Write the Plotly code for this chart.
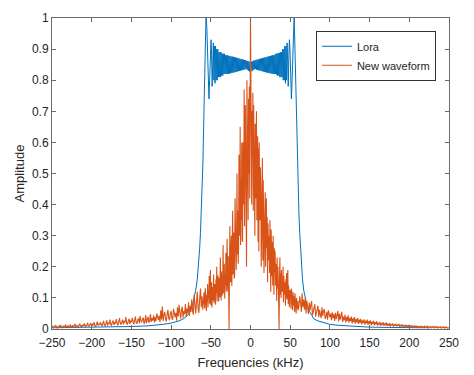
import plotly.graph_objects as go
import numpy as np

# ---------------- Lora (blue) ----------------
lora_x_left = [-250, -225, -200, -175, -150, -130, -120, -110, -100, -95, -90, -85, -80, -77, -75, -73, -71, -69, -67,
               -65.5, -64, -63, -62, -61, -60, -59, -58, -57, -56, -55, -54, -53, -52.3, -51.5, -50.5, -49.7, -49.0,
               -48.3, -47.5, -46.8, -46.1, -45.4, -44.7, -44.0, -43.3, -42.6, -41.9, -41.2, -40.5, -39.8, -39.1,
               -38.4, -37.7, -37.0, -36.3, -35.6, -34.9, -34.2, -33.5, -32.8, -32.1, -31.4, -30.7, -30.0, -29.3,
               -28.6, -27.9, -27.2, -26.5, -25.8, -25.1, -24.4, -23.7, -23.0, -22.3, -21.6, -20.9, -20.2, -19.5,
               -18.8, -18.1, -17.4, -16.7, -16.0, -15.3, -14.6, -13.9, -13.2, -12.5, -11.8, -11.1, -10.4, -9.7,
               -9.0, -8.3, -7.6, -6.9, -6.2, -5.5, -4.8, -4.1, -3.4, -2.7, -2.0, -1.3, -0.6]
lora_y_left = [0.004, 0.0045, 0.005, 0.006, 0.008, 0.010, 0.012, 0.015, 0.019, 0.022, 0.026, 0.032, 0.042, 0.052,
               0.062, 0.078, 0.098, 0.125, 0.16, 0.20, 0.26, 0.31, 0.37, 0.44, 0.53, 0.65, 0.78, 0.90, 1.01, 0.97,
               0.86, 0.77, 0.74, 0.80, 0.90, 0.93, 0.88, 0.78, 0.86, 0.92, 0.80, 0.91, 0.79, 0.91, 0.80, 0.90,
               0.80, 0.90, 0.81, 0.89, 0.81, 0.89, 0.81, 0.89, 0.815, 0.885, 0.815, 0.885, 0.82, 0.885, 0.82, 0.88,
               0.82, 0.88, 0.82, 0.88, 0.82, 0.878, 0.822, 0.878, 0.822, 0.876, 0.824, 0.876, 0.824, 0.875, 0.825,
               0.874, 0.826, 0.873, 0.827, 0.872, 0.828, 0.871, 0.829, 0.870, 0.830, 0.869, 0.831, 0.868, 0.832,
               0.867, 0.833, 0.866, 0.834, 0.865, 0.835, 0.864, 0.836, 0.862, 0.834, 0.862, 0.830, 0.860, 0.828, 0.858]
lora_x_mid = [0.0]
lora_y_mid = [0.845]
lora_x_right = [0.6, 1.3, 2.0, 2.7, 3.4, 4.1, 4.8, 5.5, 6.2, 6.9, 7.6, 8.3, 9.0, 9.7, 10.4, 11.1, 11.8, 12.5, 13.2,
                13.9, 14.6, 15.3, 16.0, 16.7, 17.4, 18.1, 18.8, 19.5, 20.2, 20.9, 21.6, 22.3, 23.0, 23.7, 24.4, 25.1,
                25.8, 26.5, 27.2, 27.9, 28.6, 29.3, 30.0, 30.7, 31.4, 32.1, 32.8, 33.5, 34.2, 34.9, 35.6, 36.3, 37.0,
                37.7, 38.4, 39.1, 39.8, 40.5, 41.2, 41.9, 42.6, 43.3, 44.0, 44.7, 45.4, 46.1, 46.8, 47.5, 48.3, 49.0,
                49.7, 50.5, 51.5, 52.0, 53.0, 54.0, 55.0, 56.0, 57, 58, 59, 60, 61, 62, 63, 64, 65.5, 67, 69, 71, 73,
                75, 77, 80, 85, 90, 95, 100, 110, 120, 130, 150, 175, 200, 225, 250]
lora_y_right = [0.832, 0.859, 0.829, 0.861, 0.833, 0.863, 0.835, 0.864, 0.836, 0.865, 0.834, 0.866, 0.833, 0.867,
                0.832, 0.868, 0.831, 0.869, 0.830, 0.870, 0.829, 0.871, 0.828, 0.872, 0.827, 0.873, 0.826, 0.874,
                0.825, 0.875, 0.824, 0.876, 0.824, 0.877, 0.822, 0.878, 0.822, 0.879, 0.821, 0.88, 0.82, 0.88,
                0.82, 0.882, 0.82, 0.885, 0.818, 0.886, 0.815, 0.886, 0.815, 0.888, 0.81, 0.89, 0.81, 0.89, 0.81,
                0.90, 0.80, 0.90, 0.80, 0.91, 0.79, 0.91, 0.80, 0.92, 0.86, 0.78, 0.88, 0.93, 0.90, 0.80, 0.74,
                0.77, 0.86, 0.97, 1.01, 0.90, 0.78, 0.65, 0.53, 0.44, 0.37, 0.31, 0.26, 0.20, 0.16, 0.125, 0.098,
                0.078, 0.062, 0.052, 0.042, 0.032, 0.026, 0.022, 0.019, 0.015, 0.012, 0.010, 0.008, 0.006, 0.005,
                0.0045, 0.004]

# ---------------- New waveform (orange) ----------------
# left wing: bins -250 .. -61 kHz (1 kHz)
wave_left = [
    0.006, 0.010, 0.004, 0.005, 0.012, 0.008, 0.009, 0.003, 0.006, 0.011,   # -250
    0.007, 0.013, 0.006, 0.005, 0.009, 0.010, 0.004, 0.014, 0.008, 0.006,   # -240
    0.011, 0.009, 0.004, 0.015, 0.006, 0.008, 0.012, 0.005, 0.010, 0.016,   # -230
    0.007, 0.011, 0.009, 0.005, 0.013, 0.017, 0.008, 0.012, 0.006, 0.014,   # -220
    0.010, 0.018, 0.007, 0.009, 0.013, 0.020, 0.008, 0.011, 0.015, 0.019,   # -210
    0.009, 0.016, 0.012, 0.022, 0.010, 0.008, 0.015, 0.024, 0.011, 0.017,   # -200
    0.013, 0.021, 0.015, 0.009, 0.018, 0.026, 0.012, 0.010, 0.019, 0.028,   # -190
    0.011, 0.020, 0.016, 0.030, 0.014, 0.012, 0.022, 0.027, 0.013, 0.021,   # -180
    0.018, 0.032, 0.017, 0.012, 0.024, 0.035, 0.019, 0.014, 0.023, 0.030,   # -170
    0.015, 0.026, 0.021, 0.038, 0.018, 0.014, 0.025, 0.033, 0.016, 0.027,   # -160
    0.022, 0.036, 0.025, 0.015, 0.028, 0.040, 0.020, 0.017, 0.030, 0.034,   # -150
    0.018, 0.042, 0.026, 0.021, 0.031, 0.037, 0.016, 0.024, 0.045, 0.019,   # -140
    0.029, 0.040, 0.020, 0.026, 0.048, 0.023, 0.035, 0.027, 0.044, 0.021,   # -130
    0.038, 0.025, 0.050, 0.033, 0.029, 0.042, 0.022, 0.060, 0.031, 0.072,   # -120
    0.026, 0.045, 0.055, 0.033, 0.024, 0.047, 0.062, 0.036, 0.028, 0.050,   # -110
    0.058, 0.034, 0.030, 0.065, 0.045, 0.038, 0.052, 0.027, 0.070, 0.040,   # -100
    0.078, 0.045, 0.033, 0.060, 0.072, 0.036, 0.058, 0.048, 0.080, 0.039,   # -90
    0.066, 0.050, 0.085, 0.042, 0.075, 0.055, 0.095, 0.060, 0.046, 0.110,   # -80
    0.080, 0.050, 0.088, 0.120, 0.065, 0.052, 0.098, 0.130, 0.070, 0.105,   # -70
]
# centre: bins -60 .. 60 kHz (0.5 kHz)
wave_centre = [
    0.062, 0.095, 0.071, 0.118, 0.084, 0.066, 0.131, 0.079, 0.102, 0.058,   # -60
    0.110, 0.088, 0.145, 0.070, 0.125, 0.097, 0.170, 0.081, 0.112, 0.190,   # -55
    0.076, 0.128, 0.150, 0.069, 0.135, 0.104, 0.092, 0.175, 0.083, 0.121,   # -50
    0.145, 0.098, 0.078, 0.160, 0.115, 0.200, 0.089, 0.132, 0.172, 0.094,   # -45
    0.088, 0.165, 0.124, 0.102, 0.230, 0.118, 0.092, 0.185, 0.140, 0.108,   # -40
    0.125, 0.270, 0.115, 0.162, 0.210, 0.098, 0.178, 0.140, 0.245, 0.121,   # -35
    0.140, 0.290, 0.168, 0.120, 0.235, 0.060, 0.000, 0.182, 0.330, 0.155,   # -30
    0.150, 0.265, 0.300, 0.138, 0.210, 0.380, 0.175, 0.245, 0.310, 0.162,   # -25
    0.170, 0.420, 0.225, 0.350, 0.190, 0.290, 0.500, 0.240, 0.380, 0.210,   # -20
    0.260, 0.560, 0.330, 0.300, 0.650, 0.270, 0.480, 0.350, 0.600, 0.290,   # -15
    0.280, 0.600, 0.450, 0.400, 0.770, 0.330, 0.550, 0.720, 0.380, 0.620,   # -10
    0.200, 0.800, 0.450, 0.650, 0.350, 0.740, 0.500, 0.780, 0.420, 0.700,   # -5
    1.000,                                                                   # 0
    0.560, 0.780, 0.400, 0.700, 0.550, 0.760, 0.380, 0.720, 0.480, 0.640,   # 0.5
    0.300, 0.660, 0.420, 0.580, 0.700, 0.350, 0.520, 0.620, 0.280, 0.580,   # 5.5
    0.250, 0.600, 0.400, 0.350, 0.520, 0.460, 0.200, 0.450, 0.300, 0.550,   # 10.5
    0.220, 0.480, 0.380, 0.180, 0.400, 0.300, 0.440, 0.200, 0.340, 0.420,   # 15.5
    0.260, 0.360, 0.150, 0.340, 0.280, 0.220, 0.300, 0.180, 0.350, 0.230,   # 20.5
    0.120, 0.320, 0.250, 0.170, 0.280, 0.140, 0.300, 0.210, 0.110, 0.260,   # 25.5
    0.180, 0.250, 0.140, 0.210, 0.160, 0.090, 0.230, 0.130, 0.200, 0.150,   # 30.5
    0.060, 0.000, 0.160, 0.230, 0.110, 0.180, 0.100, 0.190, 0.140, 0.120,   # 35.5
    0.130, 0.200, 0.085, 0.170, 0.120, 0.110, 0.150, 0.075, 0.160, 0.100,   # 40.5
    0.180, 0.095, 0.135, 0.190, 0.080, 0.140, 0.110, 0.070, 0.125, 0.100,   # 45.5
    0.125, 0.065, 0.130, 0.085, 0.110, 0.060, 0.120, 0.090, 0.075, 0.105,   # 50.5
    0.055, 0.115, 0.070, 0.095, 0.050, 0.100, 0.082, 0.065, 0.090, 0.060,   # 55.5
]
# right wing: bins 61 .. 250 kHz (1 kHz)
wave_right = [
    0.075, 0.105, 0.085, 0.055, 0.115, 0.070, 0.095, 0.062, 0.100, 0.050,   # 61
    0.090, 0.065, 0.048, 0.085, 0.060, 0.078, 0.090, 0.044, 0.055, 0.072,   # 71
    0.080, 0.040, 0.052, 0.068, 0.075, 0.038, 0.062, 0.046, 0.035, 0.070,   # 81
    0.042, 0.058, 0.064, 0.033, 0.040, 0.055, 0.030, 0.060, 0.048, 0.037,   # 91
    0.050, 0.028, 0.054, 0.035, 0.048, 0.026, 0.052, 0.032, 0.045, 0.058,   # 101
    0.024, 0.050, 0.030, 0.042, 0.055, 0.023, 0.040, 0.028, 0.046, 0.021,   # 111
    0.038, 0.026, 0.044, 0.020, 0.036, 0.025, 0.040, 0.018, 0.034, 0.022,   # 121
    0.038, 0.017, 0.032, 0.021, 0.035, 0.016, 0.030, 0.020, 0.033, 0.015,   # 131
    0.028, 0.019, 0.031, 0.014, 0.027, 0.018, 0.030, 0.013, 0.025, 0.017,   # 141
    0.028, 0.012, 0.024, 0.016, 0.026, 0.012, 0.022, 0.015, 0.025, 0.011,   # 151
    0.020, 0.014, 0.023, 0.010, 0.019, 0.013, 0.022, 0.010, 0.018, 0.012,   # 161
    0.021, 0.009, 0.017, 0.011, 0.019, 0.008, 0.016, 0.012, 0.018, 0.008,   # 171
    0.015, 0.011, 0.017, 0.009, 0.014, 0.010, 0.016, 0.007, 0.013, 0.009,   # 181
    0.015, 0.006, 0.012, 0.008, 0.014, 0.006, 0.011, 0.008, 0.013, 0.005,   # 191
    0.010, 0.007, 0.012, 0.005, 0.009, 0.007, 0.011, 0.005, 0.009, 0.006,   # 201
    0.010, 0.005, 0.008, 0.006, 0.010, 0.004, 0.008, 0.006, 0.009, 0.004,   # 211
    0.008, 0.006, 0.009, 0.004, 0.007, 0.005, 0.008, 0.004, 0.007, 0.005,   # 221
    0.008, 0.004, 0.007, 0.005, 0.008, 0.003, 0.006, 0.005, 0.007, 0.003,   # 231
    0.006, 0.004, 0.007, 0.003, 0.006, 0.004, 0.006, 0.003, 0.005, 0.004,   # 241
]
wave_f_left = np.arange(-250, -60, 1.0)
wave_f_centre = np.arange(-60, 60.25, 0.5)
wave_f_right = np.arange(61, 251, 1.0)

x_ticks = [-250, -200, -150, -100, -50, 0, 50, 100, 150, 200, 250]
y_ticks = [0, 0.1, 0.2, 0.3, 0.4, 0.5, 0.6, 0.7, 0.8, 0.9, 1]
y_tick_labels = ["0", "0.1", "0.2", "0.3", "0.4", "0.5", "0.6", "0.7", "0.8", "0.9", "1"]

lora_x = lora_x_left + lora_x_mid + lora_x_right
lora_y = lora_y_left + lora_y_mid + lora_y_right
wave_f = np.concatenate([wave_f_left, wave_f_centre, wave_f_right])
wave_amp = wave_left + wave_centre + wave_right

fig = go.Figure()
fig.add_trace(go.Scatter(x=lora_x, y=lora_y, mode="lines", name="Lora",
                         line=dict(color="#0072BD", width=1.0)))
fig.add_trace(go.Scatter(x=wave_f, y=wave_amp, mode="lines", name="New waveform",
                         line=dict(color="#D95319", width=1.1)))

font_family = "Liberation Sans, Arial, sans-serif"
axis_common = dict(showline=True, linecolor="#6b6b6b", linewidth=1, mirror="allticks",
                   ticks="inside", ticklen=4, tickcolor="#6b6b6b", showgrid=False, zeroline=False,
                   automargin=False,
                   tickfont=dict(family=font_family, size=12, color="#262626"))
fig.update_layout(
    width=474, height=375,
    margin=dict(l=52, r=25, t=18, b=46),
    paper_bgcolor="white", plot_bgcolor="white",
    font=dict(family=font_family, color="#262626"),
    xaxis=dict(range=[-250, 250], tickmode="array", tickvals=x_ticks, ticklabelstandoff=3,
               title=dict(text="Frequencies (kHz)", font=dict(size=13), standoff=8), **axis_common),
    yaxis=dict(range=[0, 1], tickmode="array", tickvals=y_ticks, ticktext=y_tick_labels,
               title=dict(text="Amplitude", font=dict(size=13), standoff=4), **axis_common),
    legend=dict(x=0.967, y=0.959, xanchor="right", yanchor="top", bgcolor="white",
                bordercolor="#333333", borderwidth=1, font=dict(size=11, family=font_family),
                tracegroupgap=0, itemwidth=30),
    showlegend=True,
)
fig.write_html("out.html", config={"displayModeBar": False},
               post_script="document.body.style.margin='0px';document.body.style.padding='0px';")
